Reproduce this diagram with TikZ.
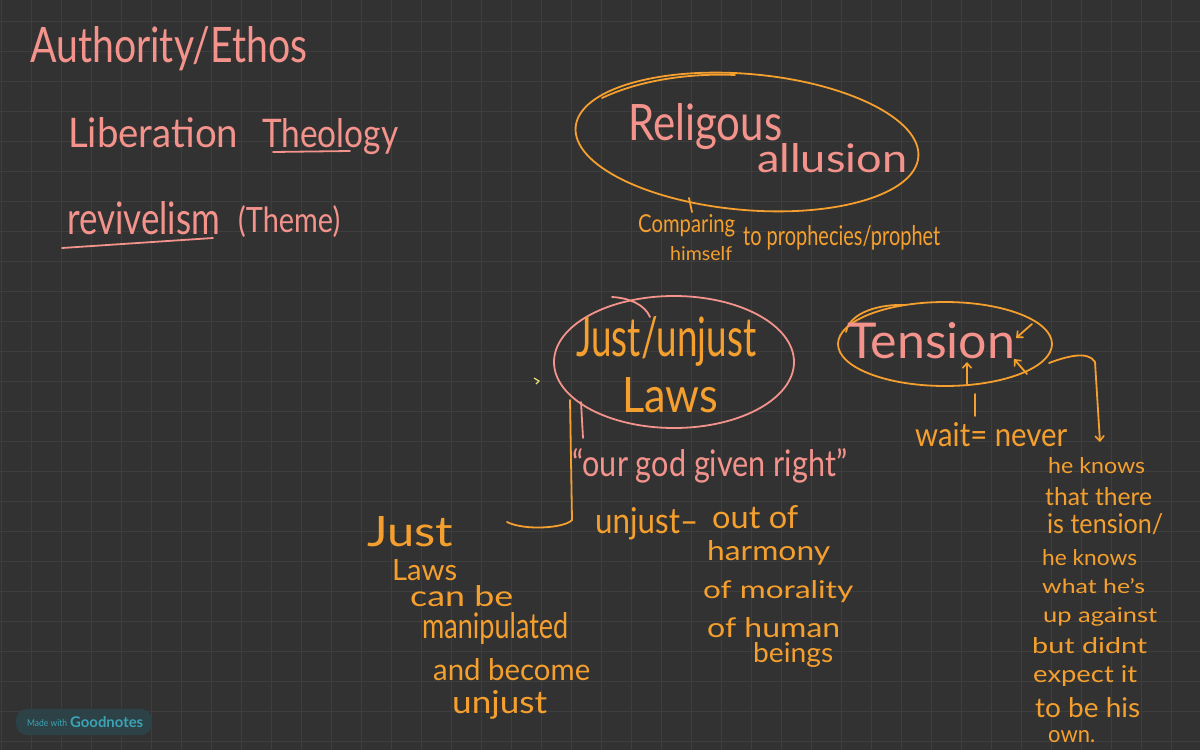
\documentclass[tikz,border=0pt]{standalone}
\usepackage{fontspec}
\setmainfont{Lato}
\usetikzlibrary{arrows.meta,shapes.geometric}
\definecolor{bg}{HTML}{323232}
\definecolor{gridc}{HTML}{3E3E3E}
\definecolor{pinkc}{HTML}{F4938C}
\definecolor{orangec}{HTML}{F5A02E}
\definecolor{badgebg}{HTML}{2C4247}
\definecolor{badgetx}{HTML}{3BA3B5}
\definecolor{yelc}{HTML}{E8E07A}
\newcommand{\fw}[3]{\resizebox{#1pt}{#2pt}{#3}}
\begin{document}
\begin{tikzpicture}[x=1pt,y=-1pt,
  pk/.style={text=pinkc, inner sep=0pt, anchor=base west},
  og/.style={text=orangec, inner sep=0pt, anchor=base west},
  pline/.style={draw=pinkc, line width=1.8pt, line cap=round, line join=round},
  oline/.style={draw=orangec, line width=1.8pt, line cap=round, line join=round},
  tipo/.style={-{Straight Barb[length=5pt,width=9pt,line width=1.6pt]}}]
\fill[bg] (0,0) rectangle (1200,750);
\useasboundingbox (0,0) rectangle (1200,750);
\foreach \gx in {1.7,31.7,...,1199} \draw[gridc, line width=1pt] (\gx,0) -- (\gx,750);
\foreach \gy in {21.7,51.7,...,749} \draw[gridc, line width=1pt] (0,\gy) -- (1200,\gy);

% left column
\node[pk] (auth) at (30,62) {\fw{277}{36}{Authority/Ethos}};
\node[pk] (lib) at (68,147) {\fw{170}{30}{Liberation}};
\node[pk] (theo) at (262,147) {\fw{136}{29}{Theology}};
\coordinate (theoA) at (273,152); \coordinate (theoB) at (350,151);
\draw[pline] (theoA) -- (theoB);
\node[pk] (reviv) at (67,234) {\fw{153}{33}{revivelism}};
\node[pk] (theme) at (238,232) {\fw{102}{27}{(Theme)}};
\coordinate (revA) at (62,248); \coordinate (revB) at (213,238);
\draw[pline] (revA) -- (revB);

% religious allusion
\coordinate (relc) at (747,142);
\draw[oline, rotate around={-5:(relc)}] (relc) ellipse [x radius=172, y radius=68];
\coordinate (relx1) at (602,98); \coordinate (relx2) at (735,75);
\draw[oline] (relx1) .. controls (640,80) and (690,73) .. (relx2);
\node[pk] (relig) at (628,140) {\fw{154}{37}{Religous}};
\node[pk] (allu) at (757,172) {\fw{150}{29}{allusion}};
\coordinate (rs1) at (689,198); \coordinate (rs2) at (692,212);
\draw[oline] (rs1) -- (rs2);
\node[og] (comp) at (638,232) {\fw{97}{18}{Comparing}};
\node[og] (himself) at (670,260) {\fw{62}{14}{himself}};
\node[og] (proph) at (743,245) {\fw{197}{20}{to prophecies/prophet}};

% just/unjust laws
\coordinate (jc) at (674,362);
\draw[pline] (jc) ellipse [x radius=120, y radius=66];
\coordinate (jx1) at (612,297); \coordinate (jx2) at (650,317);
\draw[pline] (jx1) .. controls (630,298) and (645,305) .. (jx2);
\node[og] (just) at (576,356) {\fw{180}{40}{Just/unjust}};
\node[og] (laws) at (622,412) {\fw{96}{35}{Laws}};
\coordinate (js1) at (581,402); \coordinate (js2) at (583,438);
\draw[pline] (js1) -- (js2);
\node[pk] (right) at (572,476) {\fw{275}{28}{“our god given right”}};
\coordinate (br1) at (570,400); \coordinate (br2) at (572,520); \coordinate (br3) at (507,522);
\draw[oline] (br1) -- (br2) .. controls (565,528) and (525,531) .. (br3);

\node[og] (jl1) at (367,546) {\fw{86}{30}{Just}};
\node[og] (jl2) at (392,580) {\fw{65}{21}{Laws}};
\node[og] (jl3) at (410,606) {\fw{103}{21}{can be}};
\node[og] (jl4) at (422,638) {\fw{146}{26}{manipulated}};
\node[og] (jl5) at (433,680) {\fw{157}{22}{and become}};
\node[og] (jl6) at (452,713) {\fw{95}{23}{unjust}};

\node[og] (uj1) at (595,533) {\fw{103}{26}{unjust–}};
\node[og] (uj2) at (712,528) {\fw{86}{23}{out of}};
\node[og] (uj3) at (707,560) {\fw{123}{20}{harmony}};
\node[og] (uj4) at (703,598) {\fw{150}{18}{of morality}};
\node[og] (uj5) at (707,637) {\fw{133}{20}{of human}};
\node[og] (uj6) at (753,662) {\fw{80}{20}{beings}};

% tension
\coordinate (tc) at (945,344);
\draw[oline] (tc) ellipse [x radius=107, y radius=42];
\coordinate (tx1) at (846,332); \coordinate (tx2) at (905,305);
\draw[oline] (tx1) .. controls (850,312) and (880,304) .. (tx2);
\node[pk] (tens) at (847,358) {\fw{168}{36}{Tension}};
\coordinate (ta1) at (1032,324); \coordinate (ta1t) at (1016,338);
\draw[oline, tipo] (ta1) -- (ta1t);
\coordinate (ta2) at (1027,374); \coordinate (ta2t) at (1014,359);
\draw[oline, tipo] (ta2) -- (ta2t);
\coordinate (ta3) at (967,384); \coordinate (ta3t) at (967,362);
\draw[oline, tipo] (ta3) -- (ta3t);
\coordinate (ts1) at (975,394); \coordinate (ts2) at (975,416);
\draw[oline] (ts1) -- (ts2);
\node[og] (wait) at (915,446) {\fw{152}{24}{wait= never}};
\coordinate (tr1) at (1049,363); \coordinate (tr2) at (1100,442);
\draw[oline, tipo] (tr1) .. controls (1065,357) and (1088,350) .. (1095,362) -- (tr2);

\node[og] (k1) at (1048,473) {\fw{97}{16}{he knows}};
\node[og] (k2) at (1045,505) {\fw{107}{18}{that there}};
\node[og] (k3) at (1047,533) {\fw{116}{20}{is tension/}};
\node[og] (k4) at (1042,565) {\fw{95}{16}{he knows}};
\node[og] (k5) at (1042,593) {\fw{103}{15}{what he's}};
\node[og] (k6) at (1043,622) {\fw{114}{15}{up against}};
\node[og] (k7) at (1032,653) {\fw{115}{16}{but didnt}};
\node[og] (k8) at (1033,682) {\fw{104}{17}{expect it}};
\node[og] (k9) at (1035,717) {\fw{105}{20}{to be his}};
\node[og] (k10) at (1048,742) {\fw{47}{12}{own.}};

% stray mark
\coordinate (ym1) at (534,378); \coordinate (ym2) at (539,381);
\draw[yelc, line width=1.2pt] (ym1) -- (ym2) -- ++(-3,3);

% badge
\fill[badgebg, rounded corners=11pt] (16,709) rectangle (152,735);
\node[text=badgetx, inner sep=0pt, anchor=base west] (made) at (27,726) {\fw{40}{7}{Made with}};
\node[text=badgetx, inner sep=0pt, anchor=base west] (gn) at (70,727) {\fw{73}{11}{\bfseries Goodnotes}};
\end{tikzpicture}
\end{document}
